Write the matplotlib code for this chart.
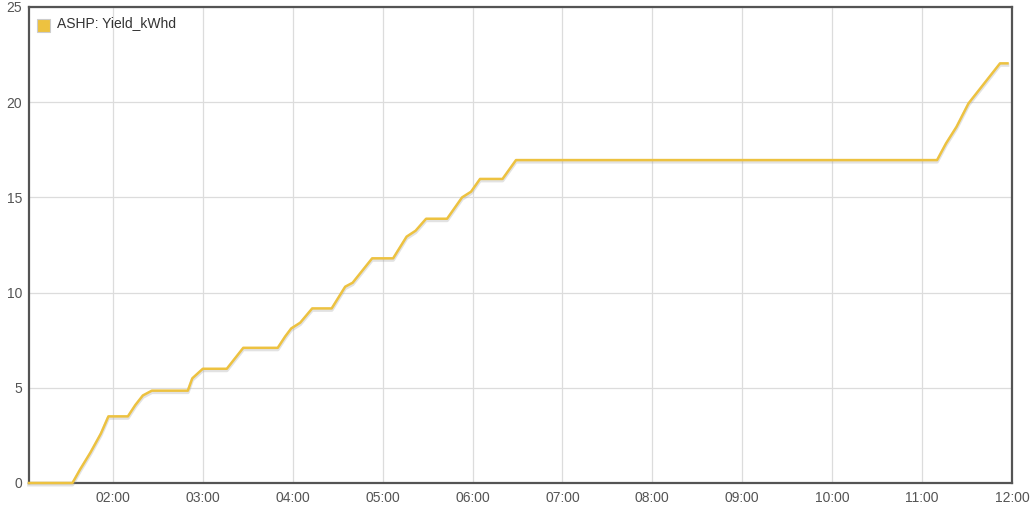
import matplotlib
matplotlib.use("Agg")
import matplotlib.pyplot as plt
import matplotlib.dates as mdates
import matplotlib.patheffects as pe
from matplotlib.patches import Rectangle
import pandas as pd

# readings (time of day, cumulative kWh)
times = ["01:04", "01:33", "01:38", "01:45", "01:52", "01:57", "02:10", "02:15",
         "02:20", "02:26", "02:50", "02:53", "03:00", "03:16", "03:27", "03:50",
         "03:55", "03:59", "04:05", "04:13", "04:26", "04:35", "04:40", "04:53",
         "05:07", "05:16", "05:22", "05:29", "05:43", "05:53", "05:59", "06:05",
         "06:20", "06:29", "11:10", "11:16", "11:23", "11:31", "11:52", "11:57"]
yield_kwhd = [0.0, 0.0, 0.7, 1.6, 2.6, 3.5, 3.5, 4.1,
              4.6, 4.85, 4.85, 5.5, 6.0, 6.0, 7.1, 7.1,
              7.7, 8.12, 8.42, 9.17, 9.17, 10.31, 10.52, 11.8,
              11.8, 12.94, 13.25, 13.88, 13.88, 15.0, 15.3, 15.97,
              15.97, 16.96, 16.96, 17.84, 18.71, 19.94, 22.04, 22.04]
series_label = "ASHP: Yield_kWhd"

plt.rcParams["font.family"] = ["Liberation Sans", "DejaVu Sans"]

day = "2024-01-01 "
t = pd.to_datetime([day + s for s in times])

fig = plt.figure(figsize=(10.35, 5.13), dpi=100)
ax = fig.add_axes([29 / 1035, 30 / 513, 983 / 1035, 476 / 513])

ax.plot(t, yield_kwhd, color="#edc240", lw=1.8, label=series_label, zorder=3, clip_on=False,
        path_effects=[pe.SimpleLineShadow(offset=(0, -1.2), shadow_color="#a0a0a0", alpha=0.3, linewidth=2.6),
                      pe.Normal()])

ax.set_xlim(pd.Timestamp(day + "01:04"), pd.Timestamp(day + "12:00"))
ax.set_ylim(0, 25)
ax.set_yticks([0, 5, 10, 15, 20, 25])
ax.xaxis.set_major_locator(mdates.HourLocator(byhour=range(2, 13)))
ax.xaxis.set_major_formatter(mdates.DateFormatter("%H:%M"))

ax.grid(True, color="#dcdcdc", lw=0.9)
ax.set_axisbelow(True)
ax.tick_params(length=0, labelsize=10, labelcolor="#545454", pad=6)
ax.tick_params(axis="y", pad=5)
for s in ax.spines.values():
    s.set_color("#545454")
    s.set_linewidth(1.6)

leg = ax.legend(loc="upper left", frameon=False, fontsize=10, handlelength=1.0,
                handleheight=0.9, borderaxespad=0.25, handletextpad=0.35)
for txt in leg.get_texts():
    txt.set_color("#333333")
# flot-style square swatch
leg.legend_handles[0].set_visible(False)
ax.add_patch(Rectangle((0.008, 0.948), 0.0135, 0.027, transform=ax.transAxes,
                       facecolor="#edc240", edgecolor="#cccccc", lw=0.8, clip_on=False))

fig.savefig("out.png", dpi=100)
